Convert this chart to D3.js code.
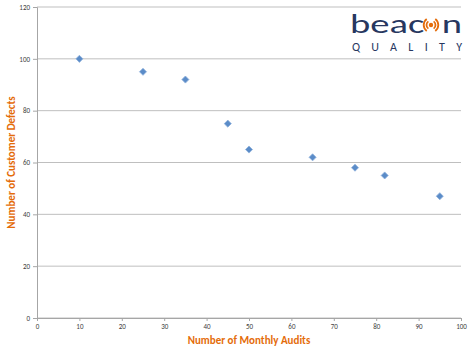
<!DOCTYPE html>
<html>
<head>
<script src="https://cdn.jsdelivr.net/npm/d3@7"></script>
<style>
  body { margin: 0; background: #fff; }
  text { font-family: Calibri, "Liberation Sans", "DejaVu Sans", sans-serif; }
</style>
</head>
<body>
<svg id="chart" width="474" height="353"></svg>
<script>
// monthly audits vs customer defects
const audits = [10, 25, 35, 45, 50, 65, 75, 82, 95];
const defects = [100, 95, 92, 75, 65, 62, 58, 55, 47];
const xTicks = [0, 10, 20, 30, 40, 50, 60, 70, 80, 90, 100];
const yTicks = [0, 20, 40, 60, 80, 100, 120];

const svg = d3.select('#chart');
const margin = { top: 7, right: 13, bottom: 35, left: 37 };
const innerW = 474 - margin.left - margin.right;
const innerH = 353 - margin.top - margin.bottom;

const g = svg.append('g').attr('transform', `translate(${margin.left},${margin.top})`);

const x = d3.scaleLinear().domain([0, 100]).range([0, innerW]);
const y = d3.scaleLinear().domain([0, 120]).range([innerH, 0]);

// horizontal gridlines
g.append('g').selectAll('line').data(yTicks).join('line')
  .attr('x1', 0).attr('x2', innerW)
  .attr('y1', d => y(d)).attr('y2', d => y(d))
  .attr('stroke', '#bfbfbf').attr('stroke-width', 1);

// y axis
const yAxis = g.append('g').call(d3.axisLeft(y).tickValues(yTicks).tickSize(4).tickPadding(3));
yAxis.select('.domain').attr('stroke', '#a6a6a6');
yAxis.selectAll('.tick line').attr('stroke', '#a6a6a6');
yAxis.selectAll('.tick text').attr('font-size', 7).attr('fill', '#404040');

// x axis
const xAxis = g.append('g').attr('transform', `translate(0,${innerH})`)
  .call(d3.axisBottom(x).tickValues(xTicks).tickSize(3).tickPadding(3));
xAxis.select('.domain').attr('stroke', '#a6a6a6');
xAxis.selectAll('.tick line').attr('stroke', '#a6a6a6');
xAxis.selectAll('.tick text').attr('font-size', 7).attr('fill', '#404040');

// logo (covers gridlines)
const logo = svg.append('g');
logo.append('rect').attr('x', 344).attr('y', 9).attr('width', 122).attr('height', 46).attr('fill', '#fff');
logo.append('text').attr('x', 350).attr('y', 33)
  .attr('font-size', 27).attr('fill', '#27375f')
  .attr('font-family', 'Lato, "Open Sans", sans-serif')
  .attr('textLength', 112).attr('lengthAdjust', 'spacingAndGlyphs')
  .text('beac\u00a0\u00a0n');
// signal icon replacing the "o"
const ic = logo.append('g').attr('transform', 'translate(431,25)');
ic.append('circle').attr('r', 2.2).attr('fill', '#e46c0a');
[4.5, 7.3].forEach(r => {
  ic.append('path')
    .attr('d', d3.arc().innerRadius(r - 0.9).outerRadius(r + 0.9).startAngle(Math.PI * 0.2).endAngle(Math.PI * 0.8)())
    .attr('fill', '#e46c0a');
  ic.append('path')
    .attr('d', d3.arc().innerRadius(r - 0.9).outerRadius(r + 0.9).startAngle(-Math.PI * 0.8).endAngle(-Math.PI * 0.2)())
    .attr('fill', '#e46c0a');
});
logo.append('text').attr('x', 352).attr('y', 51)
  .attr('font-size', 12).attr('fill', '#27375f')
  .attr('font-family', 'Lato, "Open Sans", sans-serif')
  .attr('textLength', 110).attr('lengthAdjust', 'spacing')
  .text('QUALITY');

// points
const diamond = d3.symbol().type(d3.symbolDiamond2).size(32);
g.append('g').selectAll('path').data(audits).join('path')
  .attr('d', diamond)
  .attr('transform', (d, i) => `translate(${x(d)},${y(defects[i])})`)
  .attr('fill', '#5b8cc8').attr('stroke', '#8fb1dc').attr('stroke-width', 0.8);

// axis titles
svg.append('text').attr('x', margin.left + innerW / 2).attr('y', 344)
  .attr('text-anchor', 'middle').attr('font-size', 11).attr('font-weight', 'bold')
  .attr('fill', '#e46c0a').text('Number of Monthly Audits');
svg.append('text').attr('transform', `translate(15,${margin.top + innerH / 2}) rotate(-90)`)
  .attr('text-anchor', 'middle').attr('font-size', 11).attr('font-weight', 'bold')
  .attr('fill', '#e46c0a').text('Number of Customer Defects');
</script>
</body>
</html>
